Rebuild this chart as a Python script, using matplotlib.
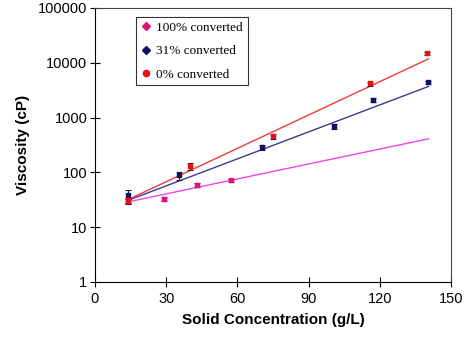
#!/usr/bin/env python3
"""Viscosity vs solid concentration for three conversion levels (log scale)."""

import matplotlib
matplotlib.use('Agg')
import matplotlib.pyplot as plt
from matplotlib.lines import Line2D
import numpy as np

# Measured points
conc_100 = [14, 29, 43, 57.5]
visc_100 = [30, 33, 59, 72]
err_100 = [3, 3, 4, 4]

conc_31 = [14, 35.5, 70.5, 100.5, 117, 140.5]
visc_31 = [38, 88, 285, 690, 2100, 4400]
err_31 = [10, 14, 30, 60, 180, 300]

conc_0 = [14, 40, 75, 116, 140]
visc_0 = [31, 130, 460, 4200, 14800]
err_0 = [3, 18, 50, 350, 1200]

# Trend line end points (exponential fits)
fit_x = [14, 140.5]
fit_100 = [29, 410]
fit_31 = [31, 3700]
fit_0 = [32, 11800]

pink, pink_line = '#e0107f', '#ee44ee'
navy, navy_line = '#101060', '#3a3a96'
red, red_line = '#e81010', '#f03c3c'

fig = plt.figure(figsize=(4.74, 3.4), dpi=100)
ax = fig.add_axes([0.2004, 0.1706, 0.7511, 0.8059])

ax.plot(fit_x, fit_100, color=pink_line, lw=1.0)
ax.plot(fit_x, fit_31, color=navy_line, lw=1.0)
ax.plot(fit_x, fit_0, color=red_line, lw=1.0)

for x, y, e, c in [(conc_100, visc_100, err_100, pink),
                   (conc_31, visc_31, err_31, navy),
                   (conc_0, visc_0, err_0, red)]:
    ax.errorbar(x, y, yerr=e, fmt='s', ms=2.2, color=c, ecolor='#222222',
                elinewidth=0.8, capsize=2, capthick=0.8, zorder=3)

ax.set_yscale('log')
ax.set_xlim(0, 150)
ax.set_ylim(1, 100000)
ax.set_xticks(np.arange(0, 151, 30))
ax.set_yticks([1, 10, 100, 1000, 10000, 100000])
ax.set_yticklabels(['1', '10', '100', '1000', '10000', '100000'])
ax.yaxis.set_minor_locator(matplotlib.ticker.NullLocator())
ax.tick_params(direction='inout', length=7, width=0.8, labelsize=10.5,
               pad=2, labelfontfamily='Liberation Sans')
ax.tick_params(axis='x', pad=4)
for s in ax.spines.values():
    s.set_linewidth(0.8)
ax.spines['top'].set_color('#444444')
ax.spines['right'].set_color('#444444')

ax.set_xlabel('Solid Concentration (g/L)', fontsize=11, fontweight='bold',
              family='Liberation Sans', labelpad=5)
ax.set_ylabel('Viscosity (cP)', fontsize=11, fontweight='bold',
              family='Liberation Sans', labelpad=6)

handles = [
    Line2D([], [], ls='none', marker='D', ms=4, color=pink),
    Line2D([], [], ls='none', marker='D', ms=4, color=navy),
    Line2D([], [], ls='none', marker='o', ms=4.5, color=red),
]
leg = ax.legend(handles, ['100% converted', '31% converted', '0% converted'],
                loc='upper left', bbox_to_anchor=(0.115, 0.967),
                prop={'family': 'Liberation Serif', 'size': 9.5},
                frameon=True, fancybox=False, edgecolor='black',
                handlelength=0.8, handletextpad=0.4, labelspacing=0.85,
                borderpad=0.35, borderaxespad=0)
leg.get_frame().set_linewidth(0.8)

plt.savefig('out.png', dpi=100)
